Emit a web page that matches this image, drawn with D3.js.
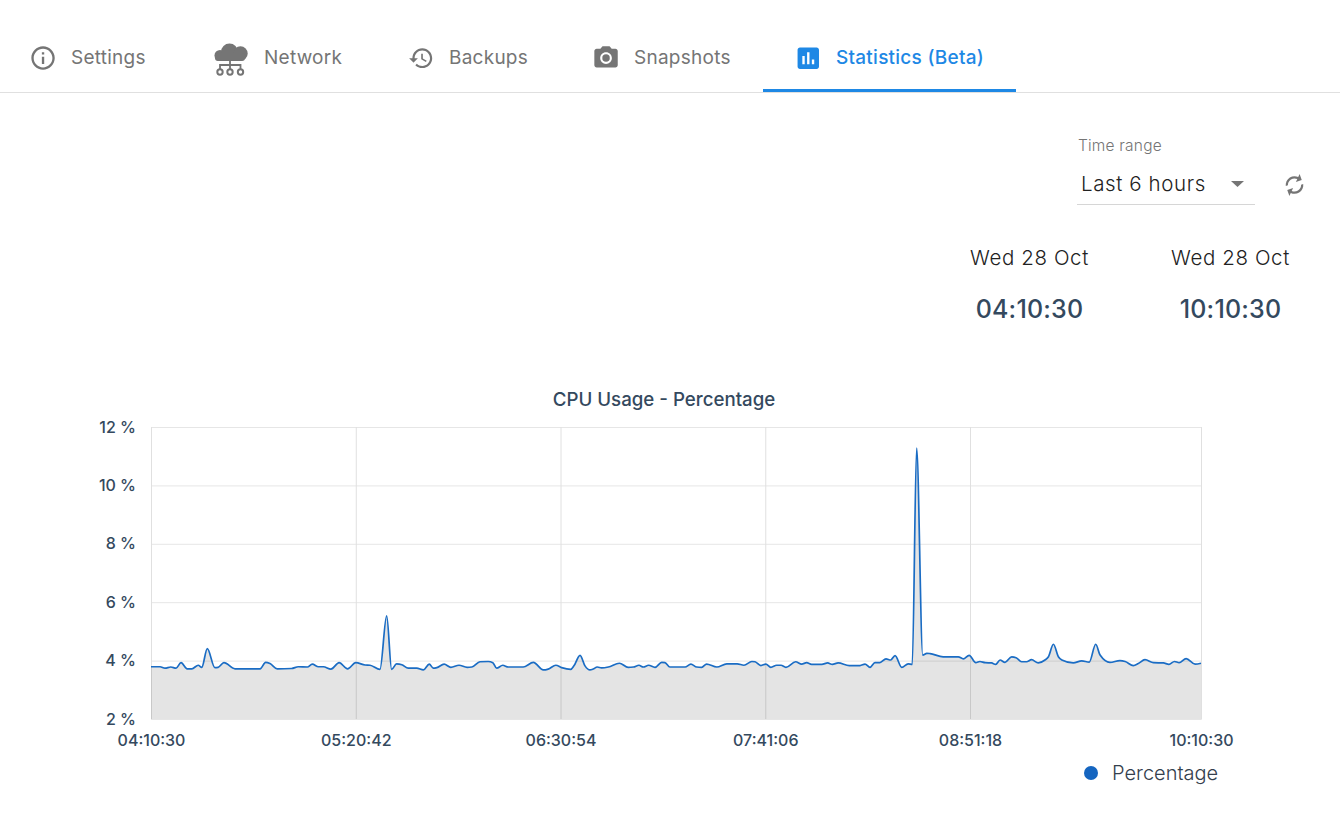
<!DOCTYPE html>
<html><head><meta charset="utf-8">
<script src="https://cdn.jsdelivr.net/npm/d3@7/dist/d3.min.js"></script>
<style>html,body{margin:0;padding:0;background:#fff}svg{display:block}text{font-family:Inter,sans-serif}</style>
</head><body><svg id="c" width="1340" height="824"></svg>
<script>
const tabLabels=["Settings","Network","Backups","Snapshots","Statistics (Beta)"];
const xTickLabels=["04:10:30","05:20:42","06:30:54","07:41:06","08:51:18","10:10:30"];
const yTicks=[2,4,6,8,10,12];
const startLabel="04:10:30", endLabel="10:10:30";
const dateLabel="Wed 28 Oct";
const seriesName="Percentage";
// minutes after the start of the range
const minutes=[0,3.1,4.8,6.8,8.6,10.3,12.4,14,16.2,17.4,19.3,21.9,23,25,28.8,37.4,39.3,40.8,43.3,48.2,50.5,53.6,55.3,57.4,59.1,61.7,64.5,67.4,70.2,73.4,75.1,78.5,80.8,82.5,84.2,86,88.2,91.1,93.4,95.4,96.8,98,100.5,102.8,105.6,108.4,110,112.8,115.6,117.2,118.5,120.6,122.5,127.6,131.1,134.5,136.2,138.8,140.8,143.9,145,147.1,148.8,150.5,151.6,153,154.5,156.8,160.6,163.6,165.4,167.3,168.8,170.6,172.8,175.1,176.2,177.9,183.1,185.1,187.1,188.8,190.5,194,197.4,201,203.3,206,207.1,209.1,210.8,212.5,214.5,216,217.7,221,223.1,224.8,226.5,230,232,233.6,235.6,239.4,243.1,244.8,246.5,248.2,249.9,252,253.6,255.1,257.4,259.6,261,262.5,264.6,266,267.1,271.6,276.8,278.5,280.5,282.8,284.2,286,288.2,289.6,291.1,292.8,295.1,296.6,298.5,300.2,301.9,304.2,306.5,307.7,309.4,311.1,312.3,316.2,319.1,321.7,323.9,325.4,328.8,332.2,334,336.8,338.5,340.8,343.7,347.1,349,350.9,352.5,354.9,358,360];
const percent=[3.79,3.79,3.74,3.78,3.74,3.93,3.72,3.72,3.84,3.77,4.41,3.76,3.77,3.93,3.72,3.72,3.94,3.9,3.72,3.73,3.79,3.78,3.88,3.79,3.79,3.71,3.93,3.72,3.93,3.85,3.84,3.7,5.53,3.7,3.89,3.86,3.74,3.74,3.68,3.88,3.74,3.76,3.88,3.77,3.84,3.77,3.78,3.96,3.97,3.93,3.74,3.84,3.78,3.78,3.94,3.68,3.71,3.84,3.76,3.7,3.82,4.18,3.82,3.68,3.71,3.78,3.75,3.78,3.91,3.77,3.78,3.84,3.78,3.84,3.77,3.94,3.93,3.78,3.78,3.88,3.78,3.77,3.88,3.78,3.89,3.89,3.84,3.97,3.96,3.83,3.88,3.77,3.84,3.84,3.77,3.96,3.88,3.93,3.87,3.87,3.92,3.87,3.92,3.83,3.83,3.88,3.77,3.93,3.93,4.06,4.02,4.17,3.77,3.89,3.87,11.28,4.19,4.25,4.24,4.13,4.13,4.06,4.18,3.93,3.97,3.93,3.92,3.87,4.02,3.94,4.13,4.1,3.96,3.96,4.03,3.92,4.02,4.13,4.56,4.13,4.02,3.92,3.99,3.95,4.56,4.19,3.94,4,3.97,3.83,3.9,4.03,3.93,3.92,3.87,3.97,3.93,4.07,3.88,3.91];

const svg=d3.select("#c");
const GREY="#757575", BLUE="#1e88e5", DARK="#34495e";
const parse=d3.utcParse("%H:%M:%S"), fmt=d3.utcFormat("%H:%M:%S");
const t0=parse(startLabel);
const times=minutes.map(m=>new Date(+t0+m*60000));
const data=times.map((t,i)=>({t,v:percent[i]}));
const L=151,R=1201,T=427,B=719;
const x=d3.scaleUtc().domain([t0,parse(endLabel)]).range([L,R]);
const y=d3.scaleLinear().domain([2,12]).range([B,T]);

// ---- tab bar
svg.append("rect").attr("x",0).attr("y",92).attr("width",1340).attr("height",1).attr("fill","#e0e0e0");
svg.append("rect").attr("x",763).attr("y",89).attr("width",253).attr("height",3).attr("fill",BLUE);
const tabX=[71,264,449,634,836];
svg.selectAll(".tab").data(tabLabels).join("text").attr("class","tab")
  .attr("x",(d,i)=>tabX[i]).attr("y",64).attr("font-size",19).attr("letter-spacing",.25)
  .attr("fill",(d,i)=>i==4?BLUE:GREY).attr("font-weight",(d,i)=>i==4?500:400).text(d=>d);
const icon=(p,x0,y0,s,c,extra)=>{const g=svg.append("g").attr("transform",`translate(${x0},${y0}) scale(${s})${extra||""}`);g.append("path").attr("d",p).attr("fill",c);return g;};
icon("M11 7h2v2h-2zm0 4h2v6h-2zm1-9C6.48 2 2 6.48 2 12s4.48 10 10 10 10-4.48 10-10S17.52 2 12 2zm0 18c-4.41 0-8-3.59-8-8s3.59-8 8-8 8 3.59 8 8-3.59 8-8 8z",29,44,1.17,GREY);
icon("M13 3c-4.97 0-9 4.03-9 9H1l3.89 3.89.07.14L9 12H6c0-3.87 3.13-7 7-7s7 3.13 7 7-3.13 7-7 7c-1.93 0-3.68-.79-4.94-2.06l-1.42 1.42C8.27 19.99 10.51 21 13 21c4.97 0 9-4.03 9-9s-4.03-9-9-9zm-1 5v5l4.28 2.54.72-1.21-3.5-2.08V8H12z",408,45,1.1,GREY);
const cam=icon("M9 2L7.17 4H4c-1.1 0-2 .9-2 2v12c0 1.1.9 2 2 2h16c1.1 0 2-.9 2-2V6c0-1.1-.9-2-2-2h-3.17L15 2H9zm3 15c-2.76 0-5-2.24-5-5s2.24-5 5-5 5 2.24 5 5-2.24 5-5 5z",592,44,1.17,GREY);
cam.append("circle").attr("cx",12).attr("cy",12).attr("r",3.2).attr("fill",GREY);
icon("M19 3H5c-1.1 0-2 .9-2 2v14c0 1.1.9 2 2 2h14c1.1 0 2-.9 2-2V5c0-1.1-.9-2-2-2zM9 17H7v-7h2v7zm4 0h-2V7h2v10zm4 0h-2v-4h2v4z",794,44,1.19,BLUE);
// network icon
const net=svg.append("g");
[[220,55.5,5.5],[229.5,52,8.5],[240.5,53.5,7.2]].forEach(c=>net.append("circle").attr("cx",c[0]).attr("cy",c[1]).attr("r",c[2]).attr("fill",GREY));
net.append("rect").attr("x",215).attr("y",53).attr("width",30).attr("height",8).attr("rx",3).attr("fill",GREY);
net.append("path").attr("d","M220 69V65H240.5V69M230 60V69").attr("fill","none").attr("stroke",GREY).attr("stroke-width",1.8);
[220,230,240.5].forEach(cx=>net.append("circle").attr("cx",cx).attr("cy",72).attr("r",2.7).attr("fill","none").attr("stroke",GREY).attr("stroke-width",2));

// ---- time range control
svg.append("text").attr("x",1078).attr("y",151).attr("font-size",15.5).attr("font-weight",300).attr("letter-spacing",.2).attr("fill","#757575").text("Time range");
svg.append("text").attr("x",1081).attr("y",191).attr("font-size",20.5).attr("font-weight",300).attr("letter-spacing",.6).attr("fill","#222").text("Last 6 hours");
svg.append("path").attr("d","M1231 181h13l-6.5 6z").attr("fill",GREY);
svg.append("rect").attr("x",1077).attr("y",204).attr("width",178).attr("height",1).attr("fill","#d6d6d6");
svg.append("g").attr("transform","translate(1294.5,185) rotate(25) scale(1.1) translate(-12,-12)").append("path")
  .attr("d","M12 6v3l4-4-4-4v3c-4.42 0-8 3.58-8 8 0 1.57.46 3.03 1.24 4.26L6.7 14.8c-.45-.83-.7-1.79-.7-2.8 0-3.31 2.69-6 6-6zm6.76 1.74L17.3 9.2c.44.84.7 1.79.7 2.8 0 3.31-2.69 6-6 6v-3l-4 4 4 4v-3c4.42 0 8-3.58 8-8 0-1.57-.46-3.03-1.24-4.26z").attr("fill",GREY);
[[1029.5,startLabel],[1230.5,endLabel]].forEach(([cx,s])=>{
  svg.append("text").attr("x",cx).attr("y",265).attr("text-anchor","middle").attr("font-size",20.5).attr("font-weight",300).attr("letter-spacing",.6).attr("fill","#222").text(dateLabel);
  svg.append("text").attr("x",cx).attr("y",318).attr("text-anchor","middle").attr("font-size",25).attr("font-weight",500).attr("letter-spacing",.2).attr("fill",DARK).text(s);
});

// ---- chart
svg.append("text").attr("x",664).attr("y",406).attr("text-anchor","middle").attr("font-size",18.7).attr("font-weight",500).attr("fill",DARK).text("CPU Usage - Percentage");
const xTickVals=xTickLabels.map(parse);
const gridY=d3.axisLeft(y).tickValues(yTicks).tickSize(-(R-L)).tickFormat(d=>d+" %").tickPadding(15);
const gy=svg.append("g").attr("transform",`translate(${L},0)`).call(gridY);
gy.select(".domain").attr("stroke","#bdbdbd");
gy.selectAll(".tick line").attr("stroke","#e6e6e6");
gy.selectAll("text").attr("font-size",16).attr("font-weight",500).attr("fill",DARK).attr("font-family","Inter,sans-serif");
const gridX=d3.axisBottom(x).tickValues(xTickVals).tickSize(-(B-T)).tickFormat(fmt).tickPadding(16);
const gx=svg.append("g").attr("transform",`translate(0,${B})`).call(gridX);
gx.select(".domain").attr("stroke","#e6e6e6");
gx.selectAll(".tick line").attr("stroke","#e0e0e0");
gx.selectAll("text").attr("font-size",16).attr("font-weight",500).attr("fill",DARK).attr("font-family","Inter,sans-serif");
const area=d3.area().x(d=>x(d.t)).y0(y(2)).y1(d=>y(d.v)).curve(d3.curveMonotoneX);
const line=d3.line().x(d=>x(d.t)).y(d=>y(d.v)).curve(d3.curveMonotoneX);
svg.append("path").datum(data).attr("d",area).attr("fill","#000").attr("fill-opacity",.105);
svg.append("path").datum(data).attr("d",line).attr("fill","none").attr("stroke","#1a6cc4").attr("stroke-width",1.7);
svg.append("circle").attr("cx",1091).attr("cy",773).attr("r",7).attr("fill","#1565c0");
svg.append("text").attr("x",1112).attr("y",780).attr("font-size",20).attr("font-weight",300).attr("fill","#34404d").text(seriesName);
</script></body></html>
